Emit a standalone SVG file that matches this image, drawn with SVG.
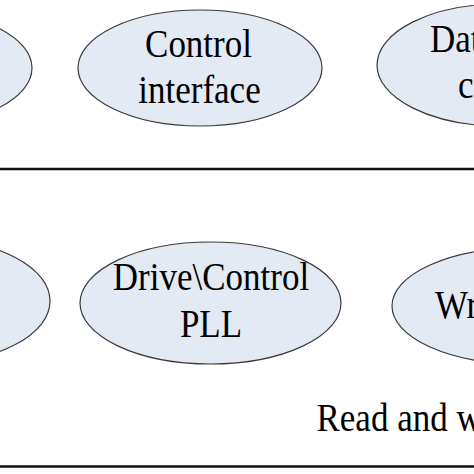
<svg xmlns="http://www.w3.org/2000/svg" width="474" height="474" viewBox="0 0 474 474">
<style>
.node ellipse{fill:#e4eaf4;stroke:#3a3a3a;stroke-width:1.2}
text{font-family:"Liberation Serif","Times New Roman",serif;font-size:35px;fill:#000}
.c{text-anchor:middle}
.sep{stroke:#111;stroke-width:2.4}
</style>
<rect width="474" height="474" fill="#fff"/>
<g id="sep-lines">
<line class="sep" x1="0" y1="169" x2="474" y2="169"/>
<line class="sep" x1="0" y1="466.5" x2="474" y2="466.5"/>
</g>
<g id="node-top-left" class="node"><ellipse cx="-90" cy="68" rx="122" ry="58"/></g>
<g id="node-control-interface" class="node">
<ellipse cx="200" cy="68" rx="122" ry="58"/>
<text class="c" transform="translate(198.5,56.7) scale(1,1.15)">Control</text>
<text class="c" transform="translate(199.5,103.3) scale(1,1.15)">interface</text>
</g>
<g id="node-top-right" class="node">
<ellipse cx="500" cy="65" rx="123" ry="61"/>
<text transform="translate(430,51.7) scale(1,1.15)">Dat</text>
<text transform="translate(458,98.3) scale(1,1.15)">c</text>
</g>
<g id="node-bottom-left" class="node"><ellipse cx="-70" cy="301" rx="120" ry="62"/></g>
<g id="node-drive-control-pll" class="node">
<ellipse cx="210.5" cy="303" rx="130.5" ry="61"/>
<text class="c" transform="translate(211,290) scale(1,1.15)">Drive\Control</text>
<text class="c" transform="translate(211,337.3) scale(1,1.15)">PLL</text>
</g>
<g id="node-bottom-right" class="node">
<ellipse cx="522" cy="306" rx="130" ry="58"/>
<text transform="translate(435,318.3) scale(1,1.15)">Wr</text>
</g>
<g id="connectors"></g>
<g id="label-read-write">
<text transform="translate(316.5,430.7) scale(1,1.15)">Read and w</text>
</g>
</svg>
